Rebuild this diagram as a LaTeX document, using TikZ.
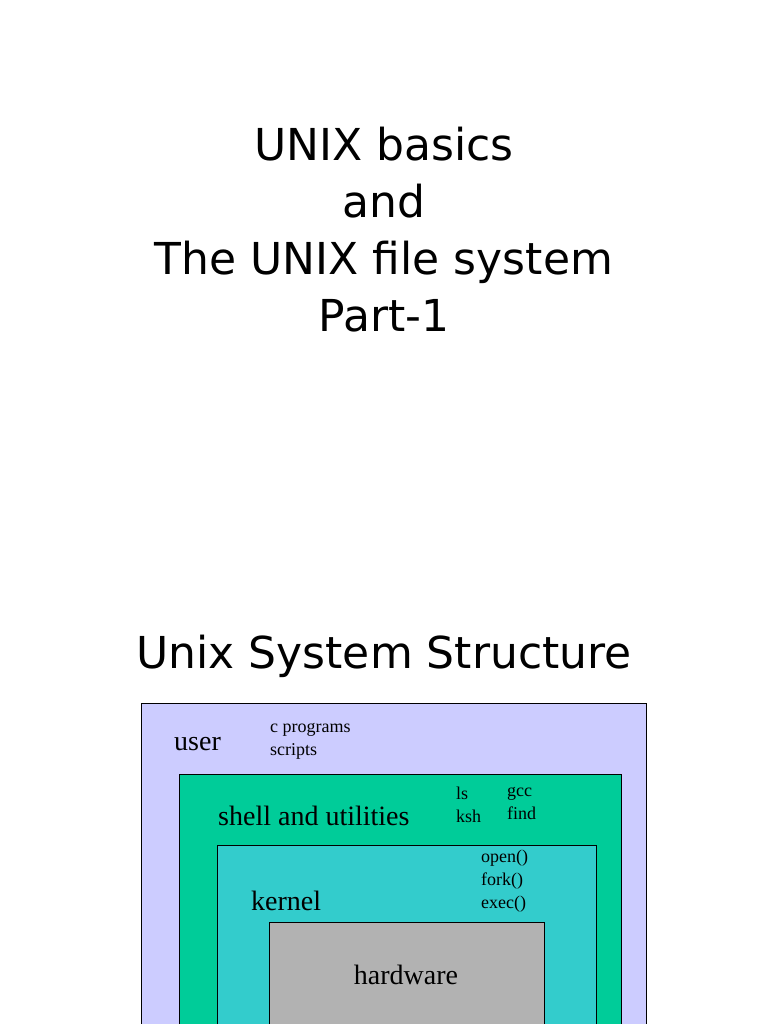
\documentclass[tikz,border=0pt]{standalone}
\usepackage{fontspec}
\setmainfont{Liberation Serif}
\newfontfamily\djfont{DejaVu Sans}
\definecolor{cuser}{HTML}{CCCCFF}
\definecolor{cshell}{HTML}{00CC99}
\definecolor{ckern}{HTML}{33CCCC}
\definecolor{chw}{HTML}{B2B2B2}
\begin{document}
\begin{tikzpicture}[x=1pt,y=-1pt,
  layer/.style={draw=black,line width=0.8pt},
  big/.style={font=\fontsize{28}{32}\selectfont,anchor=base west,inner sep=0},
  small/.style={font=\fontsize{18}{23}\selectfont,anchor=north west,inner sep=0,align=left},
  ttl/.style={font=\djfont\fontsize{44}{57}\selectfont,align=center,inner sep=0}]
\useasboundingbox (0,0) rectangle (768,1024);
\fill[white] (0,0) rectangle (768,1024);
\node[ttl,anchor=north] (title) at (384,127) {UNIX basics\\and\\The UNIX file system\\Part-1};
\node[ttl,anchor=base] (sub) at (384,668) {Unix System Structure};
\begin{scope}
\clip (0,0) rectangle (768,1024);
\draw[layer,fill=cuser] (141,703) rectangle (646,1030);
\draw[layer,fill=cshell] (179,774) rectangle (621,1030);
\draw[layer,fill=ckern] (217,845) rectangle (596,1030);
\draw[layer,fill=chw] (269,922) rectangle (544,1030);
\end{scope}
\node[big] (u) at (174,750) {user};
\node[small] (cp) at (270,723) {c programs\\scripts};
\node[big] (sh) at (218,825) {shell and utilities};
\node[small] (ls) at (456,787) {ls\\ksh};
\node[small] (gcc) at (507,787) {gcc\\find};
\node[small] (sys) at (481,850) {open()\\fork()\\exec()};
\node[big] (k) at (251,910) {kernel};
\node[big,anchor=base] (hw) at (406,984) {hardware};
\end{tikzpicture}
\end{document}
